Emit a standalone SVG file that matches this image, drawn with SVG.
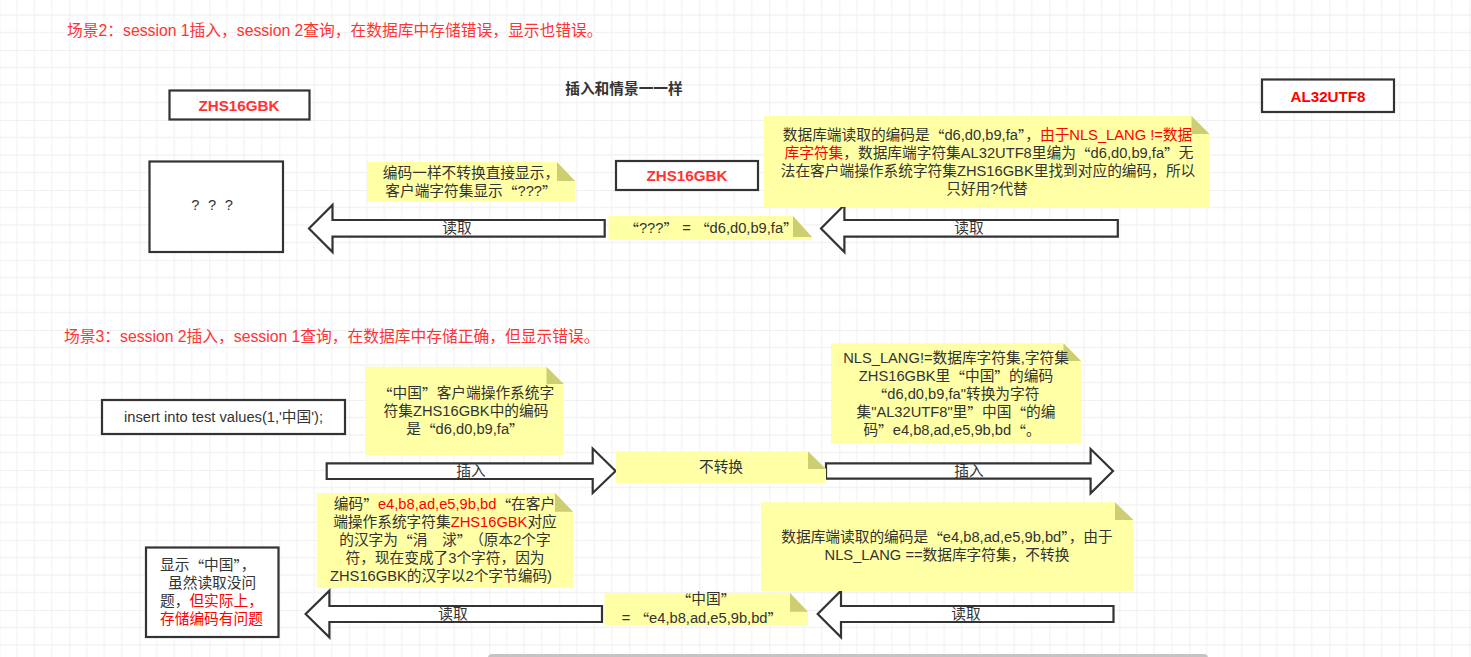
<svg xmlns="http://www.w3.org/2000/svg" width="1471" height="657" viewBox="0 0 1471 657">
<style>
text{font-family:"Liberation Sans","Noto Sans CJK SC",sans-serif;font-size:14.7px;fill:#333;text-anchor:middle;dominant-baseline:central}
.q{font-family:"Noto Sans CJK SC",sans-serif}
.s{text-anchor:start}
.title{fill:#ff3333;text-anchor:start;font-size:15.75px}
.bold{font-weight:bold;font-size:15.2px;fill:#ff3333}
.red{fill:#ff0000}
.box{fill:#fff;stroke:#333;stroke-width:2.2}
.note{fill:#ffffa6}
.fold{fill:#cdcd72}
.arrow{fill:#fff;stroke:#333;stroke-width:2.2;stroke-linejoin:miter}
</style>
<defs>
<pattern id="grid" width="70" height="70" patternUnits="userSpaceOnUse" x="-0.7" y="-20">
<path d="M17.5 0V70M35 0V70M52.5 0V70M0 17.5H70M0 35H70M0 52.5H70" fill="none" stroke="#f3f3f3" stroke-width="1.3"/>
<path d="M0 0V70M0 0H70" fill="none" stroke="#ebebeb" stroke-width="1.5"/>
</pattern>
</defs>
<rect width="1471" height="657" fill="#fff"/>
<rect width="1471" height="657" fill="url(#grid)"/>
<text class="title" x="67" y="30">场景2：session 1插入，session 2查询，在数据库中存储错误，显示也错误。</text>
<text class="title" x="64" y="336">场景3：session 2插入，session 1查询，在数据库中存储正确，但显示错误。</text>
<text id="same-note" x="624" y="89" font-weight="bold">插入和情景一一样</text>

<g id="connectors">
<path id="read-1" class="arrow" d="M604.700 220V236.700H332.500V252L309 228.500L332.500 205V220Z"/>
<path id="read-2" class="arrow" d="M1117.800 220V236.700H844.400V252L821 228.500L844.400 205V220Z"/>
<path id="insert-1" class="arrow" d="M326.700 463.300V479H592.700V493L615.600 471L592.700 448.500V463.300Z"/>
<path id="insert-2" class="arrow" d="M826 463.300V478.700H1090.600V493.300L1113 471L1090.600 449V463.300Z"/>
<path id="read-3" class="arrow" d="M602 606V622H329.400V637.300L305.600 614L329.400 590.700V606Z"/>
<path id="read-4" class="arrow" d="M1113.500 606V622H841V637.300L817.700 614L841 590.700V606Z"/>
<text x="457" y="228">读取</text>
<text x="969" y="228">读取</text>
<text x="471" y="471">插入</text>
<text x="969" y="471">插入</text>
<text x="453" y="614">读取</text>
<text x="966" y="614">读取</text>
</g>

<g id="client-charset-1"><rect class="box" x="169.500" y="90.500" width="140" height="29"/><text class="bold" x="239" y="105">ZHS16GBK</text></g>
<g id="display-1"><rect class="box" x="149.500" y="161.500" width="133.500" height="90.500"/><text x="212" y="205" style="word-spacing:4.5px">? ? ?</text></g>
<g id="note-direct"><path class="note" d="M367 162H557L575 181V201.500H367Z"/><path class="fold" d="M557 162L575 181H557Z"/><text x="471" y="173">编码一样不转换直接显示，</text><text x="471" y="191">客户端字符集显示<tspan class="q">“</tspan>???<tspan class="q">”</tspan></text></g>
<g id="client-charset-2"><rect class="box" x="616" y="161" width="142" height="29"/><text class="bold" x="687" y="175">ZHS16GBK</text></g>
<g id="note-read-1"><path class="note" d="M608.500 216H793L812 237V240H608.500Z"/><path class="fold" d="M793 216L812 237H793Z"/><text x="711" y="228"><tspan class="q">“</tspan>???<tspan class="q">”</tspan> = <tspan class="q">“</tspan>d6,d0,b9,fa<tspan class="q">”</tspan></text></g>
<g id="note-db-1"><path class="note" d="M764 116H1191.500L1209.500 134V207H764Z"/><path class="fold" d="M1191.500 116L1209.500 134H1191.500Z"/>
<text x="987.500" y="135">数据库端读取的编码是<tspan class="q">“</tspan>d6,d0,b9,fa<tspan class="q">”</tspan>，<tspan class="red">由于NLS_LANG !=数据</tspan></text>
<text x="989" y="153"><tspan class="red">库字符集</tspan>，数据库端字符集AL32UTF8里编为<tspan class="q">“</tspan>d6,d0,b9,fa<tspan class="q">”</tspan>无</text>
<text x="988" y="171">法在客户端操作系统字符集ZHS16GBK里找到对应的编码，所以</text>
<text x="987" y="189">只好用?代替</text></g>
<g id="server-charset"><rect class="box" x="1262" y="79.500" width="132" height="32.500"/><text class="bold" x="1328" y="96" style="fill:#ff0000">AL32UTF8</text></g>

<g id="insert-sql"><rect class="box" x="102" y="400" width="243" height="34"/><text x="223.500" y="417">insert into test values(1,'中国');</text></g>
<g id="note-client-encoding"><path class="note" d="M365 366.700H546.500L563.700 384V455H365Z"/><path class="fold" d="M546.500 366.700L563.700 384H546.500Z"/>
<text x="466" y="393"><tspan class="q">“</tspan>中国<tspan class="q">”</tspan>客户端操作系统字</text><text x="466" y="411">符集ZHS16GBK中的编码</text><text x="465" y="429">是<tspan class="q">“</tspan>d6,d0,b9,fa<tspan class="q">”</tspan></text></g>
<g id="note-noconvert"><path class="note" d="M616 451.300H808L826 469V483.300H616Z"/><path class="fold" d="M808 451.300L826 469H808Z"/><text x="721" y="467">不转换</text></g>
<g id="note-convert"><path class="note" d="M831 343.300H1063.500L1081 361V443.300H831Z"/><path class="fold" d="M1063.500 343.300L1081 361H1063.500Z"/>
<text x="956" y="358">NLS_LANG!=数据库字符集,字符集</text><text x="956" y="376">ZHS16GBK里<tspan class="q">“</tspan>中国<tspan class="q">”</tspan>的编码</text><text x="956" y="394"><tspan class="q">“</tspan>d6,d0,b9,fa"转换为字符</text><text x="956" y="412">集"AL32UTF8"里<tspan class="q">”</tspan>中国<tspan class="q">“</tspan>的编</text><text x="952" y="430">码<tspan class="q">”</tspan>e4,b8,ad,e5,9b,bd<tspan class="q">“</tspan>。</text></g>
<g id="note-garbled"><path class="note" d="M316.700 493H555L573 511.700V587.700H316.700Z"/><path class="fold" d="M555 493L573 511.700H555Z"/>
<text x="444.500" y="504">编码<tspan class="q">”</tspan><tspan class="red">e4,b8,ad,e5,9b,bd</tspan><tspan class="q">“</tspan>在客户</text>
<text x="445" y="522">端操作系统字符集<tspan class="red">ZHS16GBK</tspan>对应</text>
<text x="445" y="540">的汉字为<tspan class="q">“</tspan>涓　浗<tspan class="q">”</tspan><tspan dx="5">（原本2个字</tspan></text>
<text x="445" y="558">符，现在变成了3个字符，因为</text>
<text x="441" y="576">ZHS16GBK的汉字以2个字节编码)</text></g>
<g id="display-2"><rect class="box" x="146" y="547.500" width="132.500" height="89.500"/>
<text class="s" x="160" y="565">显示<tspan class="q">“</tspan>中国<tspan class="q">”</tspan>，</text><text class="s" x="168" y="583">虽然读取没问</text><text class="s" x="160" y="601">题，<tspan class="red">但实际上，</tspan></text><text class="s red" x="160" y="619">存储编码有问题</text></g>
<g id="note-read-2"><path class="note" d="M604.500 593H790L808 611.700V625.700H604.500Z"/><path class="fold" d="M790 593L808 611.700H790Z"/><text x="706" y="599"><tspan class="q">“</tspan>中国<tspan class="q">”</tspan></text><text x="702" y="618">= <tspan class="q">“</tspan>e4,b8,ad,e5,9b,bd<tspan class="q">”</tspan></text></g>
<g id="note-db-2"><path class="note" d="M761 502.300H1115L1133.400 520V591H761Z"/><path class="fold" d="M1115 502.300L1133.400 520H1115Z"/>
<text x="947" y="537">数据库端读取的编码是<tspan class="q">“</tspan>e4,b8,ad,e5,9b,bd<tspan class="q">”</tspan>，由于</text><text x="947" y="555">NLS_LANG ==数据库字符集，不转换</text></g>
<rect x="488" y="654" width="720" height="8" rx="4" fill="#c4c4c4"/>
</svg>
